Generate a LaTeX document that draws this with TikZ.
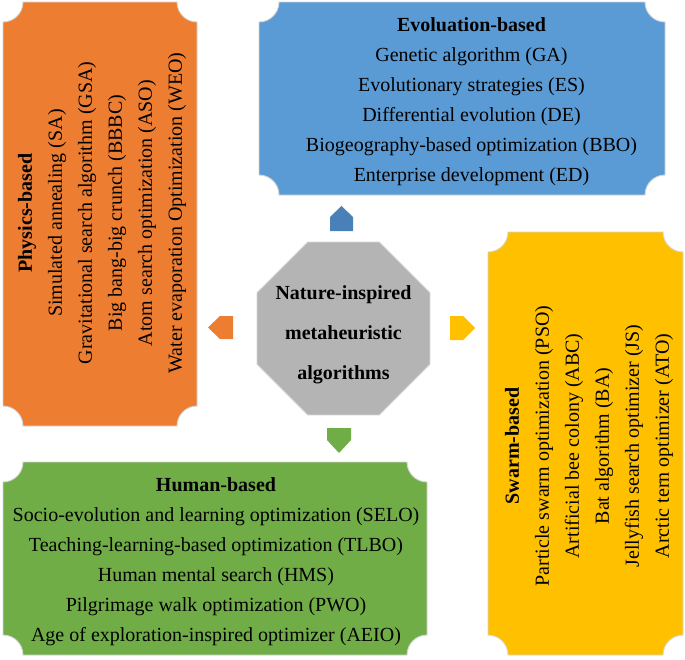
\documentclass[tikz,border=0pt]{standalone}
\usepackage{fontspec}
\setmainfont{Liberation Serif}
\usetikzlibrary{shapes.geometric}
\definecolor{cOrange}{HTML}{ED7D31}
\definecolor{cBlue}{HTML}{5B9BD5}
\definecolor{cBlueDark}{HTML}{4A80B8}
\definecolor{cGreen}{HTML}{70AD47}
\definecolor{cYellow}{HTML}{FFC000}
\definecolor{cGray}{HTML}{B4B4B4}
\definecolor{cEdge}{HTML}{D6D6D6}
\newcommand{\concavebox}[6]{%
  \filldraw[boxstyle, fill=#6] (#1+#5,#2) -- (#3-#5,#2)
    arc[start angle=180,end angle=90,radius=#5] -- (#3,#4-#5)
    arc[start angle=270,end angle=180,radius=#5] -- (#1+#5,#4)
    arc[start angle=0,end angle=-90,radius=#5] -- (#1,#2+#5)
    arc[start angle=90,end angle=0,radius=#5] -- cycle;}
\begin{document}
\begin{tikzpicture}[x=1pt,y=-1pt,
  boxstyle/.style={draw=cEdge, line width=0.9pt},
  txt/.style={align=center, inner sep=0pt, text=black, font=\fontsize{20}{30}\selectfont},
  centretxt/.style={align=center, inner sep=0pt, text=black, font=\fontsize{20}{40}\selectfont\bfseries},
  pointer/.style={draw=none}]
\useasboundingbox (0,0) rectangle (685,659);
\fill[white] (0,0) rectangle (685,659);
% boxes
\concavebox{3}{2}{197}{426}{20}{cOrange}
\concavebox{259}{2}{665}{195}{20}{cBlue}
\concavebox{3}{462}{427}{655}{20}{cGreen}
\concavebox{488}{232}{683}{655}{20}{cYellow}
% centre octagon
\node[regular polygon, regular polygon sides=8, minimum size=187.2pt, inner sep=0pt,
      fill=cGray, draw=cEdge, line width=0.9pt] (oct) at (343.5,328.5) {};
\node[centretxt] (octtxt) at (343.5,334.5) {Nature-inspired\\metaheuristic\\algorithms};
% pointers
\fill[pointer, cBlueDark] (330,231) -- (330,217) -- (341.5,206) -- (353,217) -- (353,231) -- cycle;
\fill[pointer, cOrange] (233,316) -- (220,316) -- (208,327.5) -- (220,339) -- (233,339) -- cycle;
\fill[pointer, cYellow] (450,316) -- (463,316) -- (475,328) -- (463,340) -- (450,340) -- cycle;
\fill[pointer, cGreen] (327,428) -- (351,428) -- (351,440) -- (339,453) -- (327,440) -- cycle;
% texts
\node[txt] (evo) at (471.5,102) {\textbf{Evoluation-based}\\Genetic algorithm (GA)\\Evolutionary strategies (ES)\\Differential evolution (DE)\\Biogeography-based optimization (BBO)\\Enterprise development (ED)};
\node[txt, rotate=90] (phy) at (102,213) {\textbf{Physics-based}\\Simulated annealing (SA)\\Gravitational search algorithm (GSA)\\Big bang-big crunch (BBBC)\\Atom search optimization (ASO)\\Water evaporation Optimization (WEO)};
\node[txt, rotate=90] (swa) at (589,446) {\textbf{Swarm-based}\\Particle swarm optimization (PSO)\\Artificial bee colony (ABC)\\Bat algorithm (BA)\\Jellyfish search optimizer (JS)\\Arctic tern optimizer (ATO)};
\node[txt] (hum) at (216,562) {\textbf{Human-based}\\Socio-evolution and learning optimization (SELO)\\Teaching-learning-based optimization (TLBO)\\Human mental search (HMS)\\Pilgrimage walk optimization (PWO)\\Age of exploration-inspired optimizer (AEIO)};
\end{tikzpicture}
\end{document}
